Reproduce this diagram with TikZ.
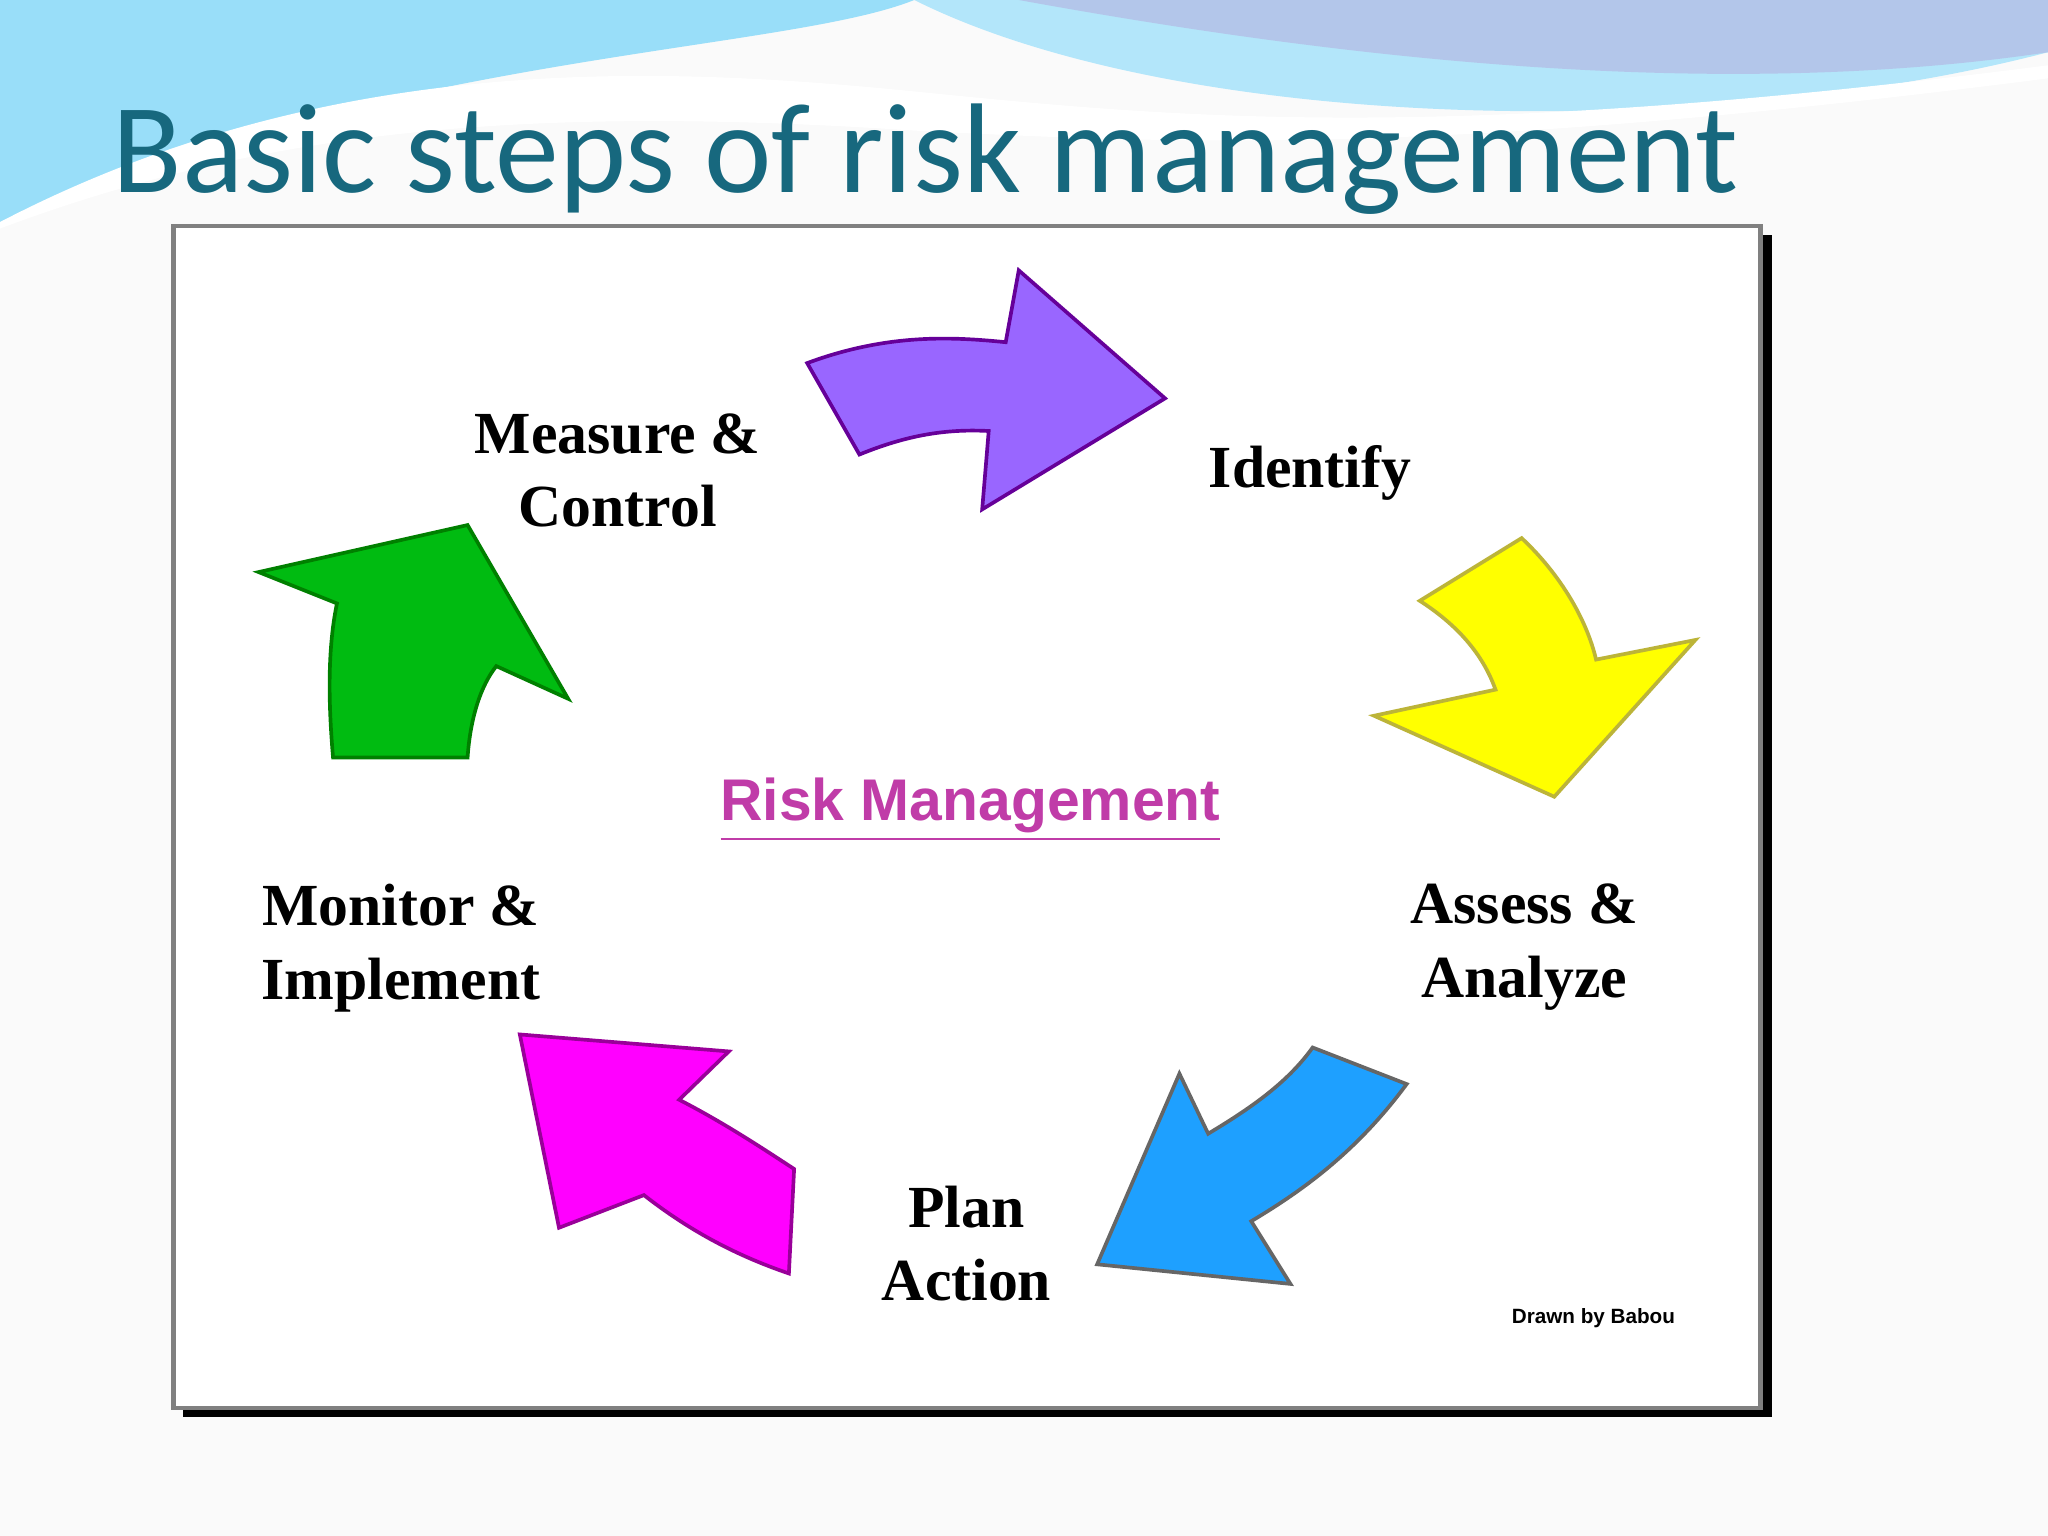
\documentclass[tikz,border=0pt]{standalone}
\usepackage{fontspec}
\setmainfont{Liberation Serif}
\newfontfamily\carl{Carlito}
\newfontfamily\arial{Liberation Sans}
\definecolor{ttl}{HTML}{17687E}
\definecolor{pur}{HTML}{9966FF}
\definecolor{blu}{HTML}{1EA0FF}
\definecolor{grn}{HTML}{00BB11}
\definecolor{rmc}{HTML}{C03CA8}
\definecolor{mag}{HTML}{FF00FF}
\definecolor{yel}{HTML}{FFFF00}
\begin{document}
\begin{tikzpicture}[x=0.01cm,y=-0.01cm,
  lab/.style={font=\bfseries\fontsize{13}{16}\selectfont,align=center},
  arr/.style={draw=#1,line width=0.8pt,line join=miter}]
\useasboundingbox (0,0) rectangle (1568,1176);
\fill[white!96!gray] (0,0) rectangle (1568,1176);
% waves
\fill[cyan!40!white] (0,0) -- (700,0) .. controls (600,40) and (300,40) .. (0,170) -- cycle;
\fill[cyan!30!white] (0,0) -- (1568,0) -- (1568,40) .. controls (1300,110) and (900,100) .. (700,0) -- cycle;
\fill[cyan!50!blue!30!white] (780,0) -- (1568,0) -- (1568,40) .. controls (1300,80) and (1000,40) .. (780,0) -- cycle;
\fill[white] (0,170) .. controls (250,40) and (500,50) .. (700,70) .. controls (900,90) and (1100,110) .. (1568,50) -- (1568,60) .. controls (1100,120) and (900,110) .. (700,100) .. controls (400,80) and (200,100) .. (0,175) -- cycle;
\node[font=\carl\fontsize{27.8}{32}\selectfont,text=ttl,anchor=west] (title) at (74,122) {Basic steps of risk management};
% frame
\fill[black] (140,180) rectangle (1357,1085);
\draw[fill=white,draw=gray,line width=1pt] (133,173) rectangle (1348,1078);
% arrows
\filldraw[arr=violet!80!blue,fill=pur] (618,278) .. controls (680,255) and (730,258) .. (770,262) -- (780,207) -- (892,305) -- (752,390) -- (757,330) .. controls (720,328) and (690,335) .. (658,348) -- cycle;
\filldraw[arr=yellow!70!black,fill=yel] (1087,460) -- (1165,412) .. controls (1195,440) and (1215,475) .. (1222,505) -- (1298,490) -- (1190,610) -- (1052,548) -- (1145,528) .. controls (1135,500) and (1115,478) .. (1087,460) -- cycle;
\filldraw[arr=gray!80!black,fill=blu] (1005,802) -- (1077,830) .. controls (1040,880) and (1000,910) .. (958,935) -- (988,983) -- (840,968) -- (903,822) -- (925,868) .. controls (955,850) and (985,830) .. (1005,802) -- cycle;
\filldraw[arr=mag!60!black,fill=mag] (608,895) -- (604,975) .. controls (560,960) and (525,940) .. (493,915) -- (428,940) -- (398,792) -- (558,805) -- (520,842) .. controls (555,860) and (585,880) .. (608,895) -- cycle;
\filldraw[arr=green!50!black,fill=grn] (255,580) -- (358,580) .. controls (360,550) and (368,525) .. (380,510) -- (435,535) -- (358,402) -- (198,438) -- (258,462) .. controls (250,500) and (252,545) .. (255,580) -- cycle;
% labels
\node[lab] (mc) at (473,360) {Measure \&\\Control};
\node[lab] (id) at (1003,362) {Identify};
\node[lab] (aa) at (1167,725) {Assess \&\\Analyze};
\node[lab] (pa) at (740,952) {Plan\\Action};
\node[lab] (mi) at (307,726) {Monitor \&\\Implement};
\node[font=\arial\fontsize{12.8}{14}\selectfont,text=rmc] (rm) at (743,620) {\bfseries\underline{Risk Management}};
\node[font=\arial\bfseries\fontsize{4.5}{5}\selectfont] (db) at (1220,1009) {Drawn by Babou};
\end{tikzpicture}
\end{document}
